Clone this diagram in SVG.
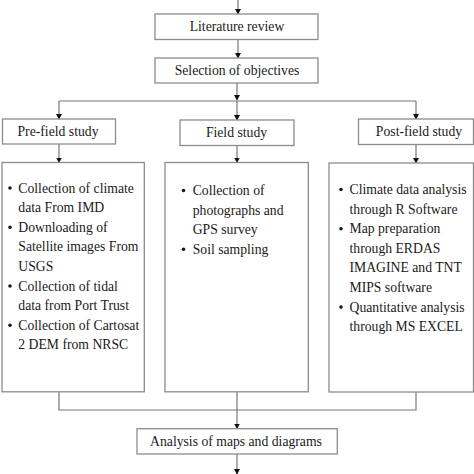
<svg xmlns="http://www.w3.org/2000/svg" width="474" height="474" viewBox="0 0 474 474">
<style>
.box{fill:#fff;stroke:#8c8c8c;stroke-width:1.3}
.ln{fill:none;stroke:#777;stroke-width:1.2}
.t{font-family:"Liberation Serif","Times New Roman",serif;font-size:13.7px;fill:#1a1a1a}
.c{text-anchor:middle}
.b{fill:#1a1a1a}
</style>
<defs>
<marker id="ah" markerWidth="6" markerHeight="6" refX="5" refY="3" orient="auto" markerUnits="userSpaceOnUse">
<path d="M0,0 L5.5,3 L0,6 Z" fill="#111"/>
</marker>
</defs>
<rect width="474" height="474" fill="#fff"/>
<g id="connectors">
<line class="ln" x1="238" y1="0" x2="238" y2="14" marker-end="url(#ah)"/>
<line class="ln" x1="238" y1="40" x2="238" y2="58" marker-end="url(#ah)"/>
<line class="ln" x1="237" y1="83" x2="237" y2="100" marker-end="url(#ah)"/>
<line class="ln" x1="59" y1="101" x2="416" y2="101"/>
<line class="ln" x1="59" y1="101" x2="59" y2="119" marker-end="url(#ah)"/>
<line class="ln" x1="237" y1="101" x2="237" y2="120" marker-end="url(#ah)"/>
<line class="ln" x1="416" y1="101" x2="416" y2="119" marker-end="url(#ah)"/>
<line class="ln" x1="59" y1="144" x2="59" y2="162.5" marker-end="url(#ah)"/>
<line class="ln" x1="237" y1="145.5" x2="237" y2="162.5" marker-end="url(#ah)"/>
<line class="ln" x1="416" y1="144.5" x2="416" y2="163" marker-end="url(#ah)"/>
<polyline class="ln" points="59,392 59,410 416,410 416,392"/>
<line class="ln" x1="237" y1="392" x2="237" y2="428.5" marker-end="url(#ah)"/>
<line class="ln" x1="237" y1="454" x2="237" y2="474" marker-end="url(#ah)"/>
</g>
<g id="literature-review">
<rect class="box" x="155" y="14" width="163" height="25.5"/>
<text class="t c" x="237" y="31">Literature review</text>
</g>
<g id="selection-of-objectives">
<rect class="box" x="155" y="58" width="163" height="25"/>
<text class="t c" x="237" y="75">Selection of objectives</text>
</g>
<g id="pre-field-study">
<rect class="box" x="2.5" y="119" width="113" height="25"/>
<text class="t c" x="58" y="136.3">Pre-field study</text>
</g>
<g id="field-study">
<rect class="box" x="180" y="120" width="114" height="25.5"/>
<text class="t c" x="236.5" y="137.3">Field study</text>
</g>
<g id="post-field-study">
<rect class="box" x="358.5" y="119" width="115" height="25.5"/>
<text class="t c" x="419" y="135.5">Post-field study</text>
</g>
<g id="pre-field-tasks">
<rect class="box" x="2" y="162.5" width="142.3" height="229.3"/>
<circle class="b" cx="10" cy="188" r="1.8"/>
<circle class="b" cx="10" cy="227.2" r="1.8"/>
<circle class="b" cx="10" cy="286" r="1.8"/>
<circle class="b" cx="10" cy="325.2" r="1.8"/>
<text class="t" x="18.3" y="192.5">Collection of climate</text>
<text class="t" x="18.3" y="212.1">data From IMD</text>
<text class="t" x="18.3" y="231.7">Downloading of</text>
<text class="t" x="18.3" y="251.3">Satellite images From</text>
<text class="t" x="18.3" y="270.9">USGS</text>
<text class="t" x="18.3" y="290.5">Collection of tidal</text>
<text class="t" x="18.3" y="310.1">data from Port Trust</text>
<text class="t" x="18.3" y="329.7">Collection of Cartosat</text>
<text class="t" x="18.3" y="349.3">2 DEM from NRSC</text>
</g>
<g id="field-tasks">
<rect class="box" x="165" y="162.5" width="143.3" height="229.3"/>
<circle class="b" cx="183.5" cy="190.5" r="1.8"/>
<circle class="b" cx="183.5" cy="249.3" r="1.8"/>
<text class="t" x="192.7" y="195">Collection of</text>
<text class="t" x="192.7" y="214.6">photographs and</text>
<text class="t" x="192.7" y="234.2">GPS survey</text>
<text class="t" x="192.7" y="253.8">Soil sampling</text>
</g>
<g id="post-field-tasks">
<rect class="box" x="329" y="163" width="144.5" height="229"/>
<circle class="b" cx="341" cy="189.5" r="1.8"/>
<circle class="b" cx="341" cy="228.7" r="1.8"/>
<circle class="b" cx="341" cy="307.1" r="1.8"/>
<text class="t" x="349.5" y="194">Climate data analysis</text>
<text class="t" x="349.5" y="213.6">through R Software</text>
<text class="t" x="349.5" y="233.2">Map preparation</text>
<text class="t" x="349.5" y="252.8">through ERDAS</text>
<text class="t" x="349.5" y="272.4">IMAGINE and TNT</text>
<text class="t" x="349.5" y="292">MIPS software</text>
<text class="t" x="349.5" y="311.6">Quantitative analysis</text>
<text class="t" x="349.5" y="331.2">through MS EXCEL</text>
</g>
<g id="analysis-of-maps-and-diagrams">
<rect class="box" x="137" y="428.7" width="200.3" height="25.3"/>
<text class="t c" x="236" y="445.8">Analysis of maps and diagrams</text>
</g>
</svg>
